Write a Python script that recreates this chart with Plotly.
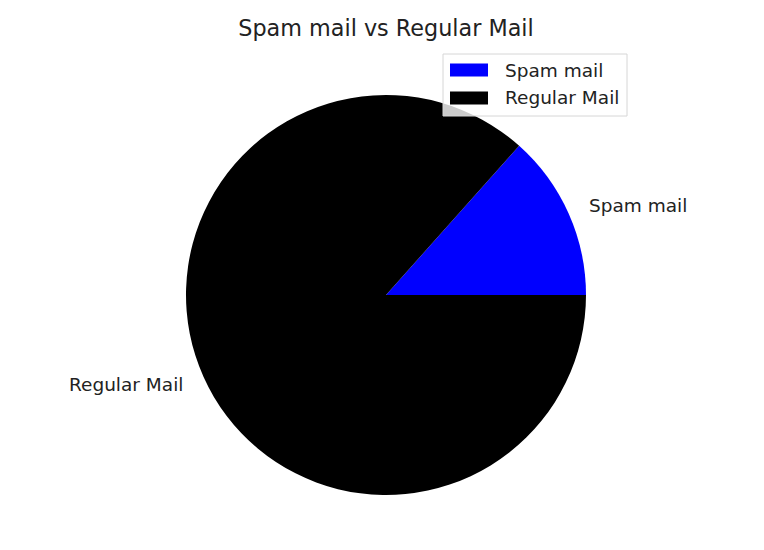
import math
import plotly.graph_objects as go

labels = ['Spam mail', 'Regular Mail']
counts = [747, 4825]
colors = ['#0000ff', '#000000']

W, H = 764, 550

# pie placement in pixels (center + radius); page body adds an 8px offset
cx, cy, r = 378, 287, 200

# matplotlib-style: first wedge starts at 3 o'clock and runs counterclockwise
total = sum(counts)
spam_deg = 360 * counts[0] / total

fig = go.Figure(go.Pie(
    labels=labels,
    values=counts,
    marker=dict(colors=colors, line=dict(width=0)),
    sort=False,
    direction='clockwise',
    rotation=90 - spam_deg,
    textinfo='none',
    hoverinfo='label+value+percent',
    showlegend=False,
    domain=dict(x=[(cx - r) / W, (cx + r) / W], y=[1 - (cy + r) / H, 1 - (cy - r) / H]),
))

# wedge labels at 1.1 x radius, like matplotlib's labeldistance
start = 0
for lab, val in zip(labels, counts):
    mid = math.radians(start + 180 * val / total)
    start += 360 * val / total
    lx = cx + 1.1 * r * math.cos(mid)
    ly = cy - 1.1 * r * math.sin(mid)
    fig.add_annotation(
        x=lx / W, y=1 - ly / H, xref='paper', yref='paper',
        text=lab, showarrow=False,
        xanchor='left' if math.cos(mid) > 0 else 'right', yanchor='middle',
        font=dict(size=18.5, color='#222222'),
    )

# matplotlib-looking legend: framed box with wide colour patches
def px(x):
    return x / W

def py(y):
    return 1 - y / H

box_l, box_r, box_t, box_b = 435, 619, 46, 108
fig.add_shape(type='rect', xref='paper', yref='paper',
              x0=px(box_l), x1=px(box_r), y0=py(box_b), y1=py(box_t),
              fillcolor='rgba(255,255,255,0.8)', line=dict(color='#d6d6d6', width=1),
              layer='above')
for i, (lab, col) in enumerate(zip(labels, colors)):
    row_y = 62 + 28 * i
    fig.add_shape(type='rect', xref='paper', yref='paper',
                  x0=px(442), x1=px(480), y0=py(row_y + 6.5), y1=py(row_y - 6.5),
                  fillcolor=col, line=dict(width=0), layer='above')
    fig.add_annotation(x=px(495), y=py(row_y), xref='paper', yref='paper',
                       text=lab, showarrow=False, xanchor='left', yanchor='middle',
                       font=dict(size=18.5, color='#222222'))

fig.update_layout(
    width=W,
    height=H,
    margin=dict(l=0, r=0, t=0, b=0),
    paper_bgcolor='white',
    font=dict(family='DejaVu Sans', size=18.5, color='#222222'),
    title=dict(text='Spam mail vs Regular Mail', x=378 / W, xanchor='center',
               y=1 - 20 / H, yanchor='middle', font=dict(size=22.3)),
)

fig.write_html('out.html')
